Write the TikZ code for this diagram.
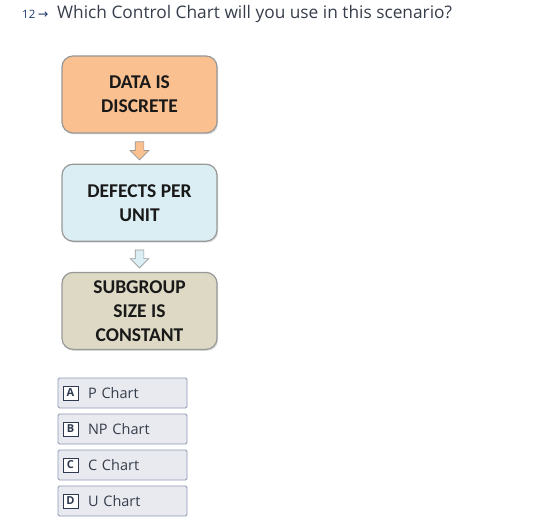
\documentclass[tikz,border=0pt]{standalone}
\usepackage{fontspec}
\setmainfont{Open Sans}
\newfontfamily\boxfont{Carlito}
\newfontfamily\symfont{DejaVu Sans}
\usetikzlibrary{positioning,calc,shapes.arrows,shadows}

\definecolor{orangefill}{HTML}{FAC08F}
\definecolor{bluefill}{HTML}{DBEEF4}
\definecolor{tanfill}{HTML}{DDD9C4}
\definecolor{boxline}{HTML}{989898}
\definecolor{optfill}{HTML}{E8EAF0}
\definecolor{optline}{HTML}{8E99B4}
\definecolor{badgeline}{HTML}{2E3A50}
\definecolor{qtext}{HTML}{363D4A}
\definecolor{qnum}{HTML}{1F3A6E}

\begin{document}
\begin{tikzpicture}[x=1pt,y=-1pt]
  % Settings
  \tikzset{
    step box/.style={draw=boxline, line width=1.2pt, rounded corners=11pt, minimum width=155pt, minimum height=77pt,
      align=center, font=\boxfont\bfseries\fontsize{19.5}{24}\selectfont, text=black!90,
      drop shadow={opacity=0.25, shadow xshift=1.2pt, shadow yshift=-1.5pt}},
    down arrow/.style={single arrow, draw=boxline, line width=0.7pt, shape border rotate=270, minimum height=18pt,
      single arrow head extend=5pt, inner sep=4pt},
    opt/.style={draw=optline, line width=0.8pt, fill=optfill, rounded corners=1.5pt, minimum height=30pt,
      text width=69pt, inner xsep=30pt, inner ysep=0pt, align=left, font=\fontsize{14.5}{16}\selectfont, text=qtext},
    badge/.style={draw=badgeline, line width=0.8pt, fill=white, minimum width=15pt, minimum height=14pt, inner sep=0pt,
      font=\bfseries\fontsize{11}{11}\selectfont, text=badgeline},
  }
  \useasboundingbox (0,0) rectangle (546,524);

  % Question
  \node[anchor=base west, inner sep=0pt, font=\fontsize{11.5}{12}\selectfont, text=qnum] (qnum) at (22,19) {12};
  \node[anchor=base west, inner sep=0pt, font=\symfont\fontsize{12.5}{12}\selectfont, text=qnum, xshift=2pt]
    (qarrow) at (qnum.base east) {→};
  \node[anchor=base west, inner sep=0pt, font=\fontsize{17.3}{20}\selectfont, text=qtext] (question) at (57,19)
    {Which Control Chart will you use in this scenario?};

  % Flow boxes
  \node[step box, fill=orangefill] (data) at (139.5,94.5) {DATA IS\\DISCRETE};
  \node[step box, fill=bluefill, below=30pt of data] (defects) {DEFECTS PER\\UNIT};
  \node[step box, fill=tanfill, below=30pt of defects] (subgroup) {SUBGROUP\\SIZE IS\\CONSTANT};

  % Arrows
  \node[down arrow, fill=orangefill] (arr1) at ($(data.south)!0.5!(defects.north)$) {};
  \node[down arrow, fill=bluefill] (arr2) at ($(defects.south)!0.5!(subgroup.north)$) {};

  % Answer options
  \foreach \l/\t [count=\i] in {A/P Chart, B/NP Chart, C/C Chart, D/U Chart} {
    \node[opt] (opt\l) at (122.5,357+36*\i) {\t};
    \node[badge, right=5pt of opt\l.west] (badge\l) {\l};
  }
\end{tikzpicture}
\end{document}
